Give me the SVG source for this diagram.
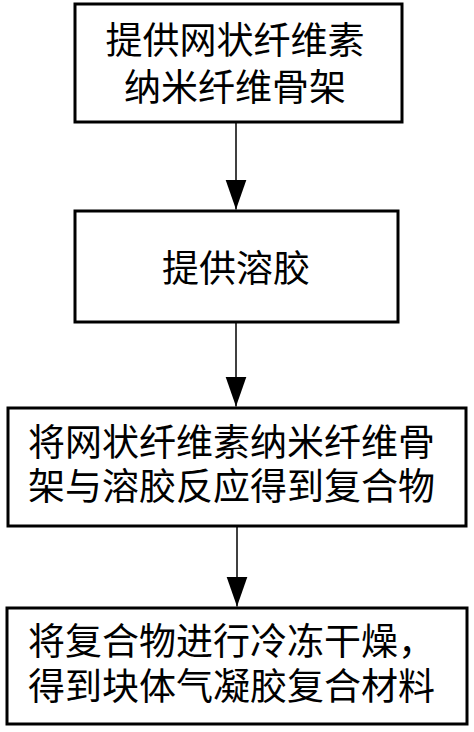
<svg xmlns="http://www.w3.org/2000/svg" width="474" height="732" viewBox="0 0 474 732">
<style>
.box{fill:#fff;stroke:#000;stroke-width:3}
.t{font-family:"Noto Sans CJK SC","Noto Sans CJK JP",sans-serif;font-size:37px;fill:#000}
.c{text-anchor:middle}
.conn line{stroke:#000;stroke-width:1.5}
</style>
<defs>
<marker id="ah" markerUnits="userSpaceOnUse" markerWidth="31" markerHeight="22" refX="30" refY="10.5" orient="auto">
<path d="M0,0 L30,10.5 L0,21 Z" fill="#000"/>
</marker>
</defs>
<rect width="474" height="732" fill="#fff"/>
<g id="node1">
<rect class="box" x="75" y="4" width="327" height="118"/>
<text class="t c" x="235" y="54">提供网状纤维素<tspan x="235" dy="47">纳米纤维骨架</tspan></text>
</g>
<g id="node2">
<rect class="box" x="75" y="211" width="323" height="111"/>
<text class="t c" x="236" y="282">提供溶胶</text>
</g>
<g id="node3">
<rect class="box" x="8" y="408" width="458" height="118"/>
<text class="t" x="28" y="456">将网状纤维素纳米纤维骨<tspan x="28" dy="44">架与溶胶反应得到复合物</tspan></text>
</g>
<g id="node4">
<rect class="box" x="7" y="608" width="460" height="116"/>
<text class="t" x="28" y="655">将复合物进行冷冻干燥，<tspan x="28" dy="45">得到块体气凝胶复合材料</tspan></text>
</g>
<g id="connectors" class="conn">
<line x1="236" y1="123" x2="236" y2="209.5" marker-end="url(#ah)"/>
<line x1="236" y1="323" x2="236" y2="406.5" marker-end="url(#ah)"/>
<line x1="237" y1="527" x2="237" y2="606.5" marker-end="url(#ah)"/>
</g>
</svg>
